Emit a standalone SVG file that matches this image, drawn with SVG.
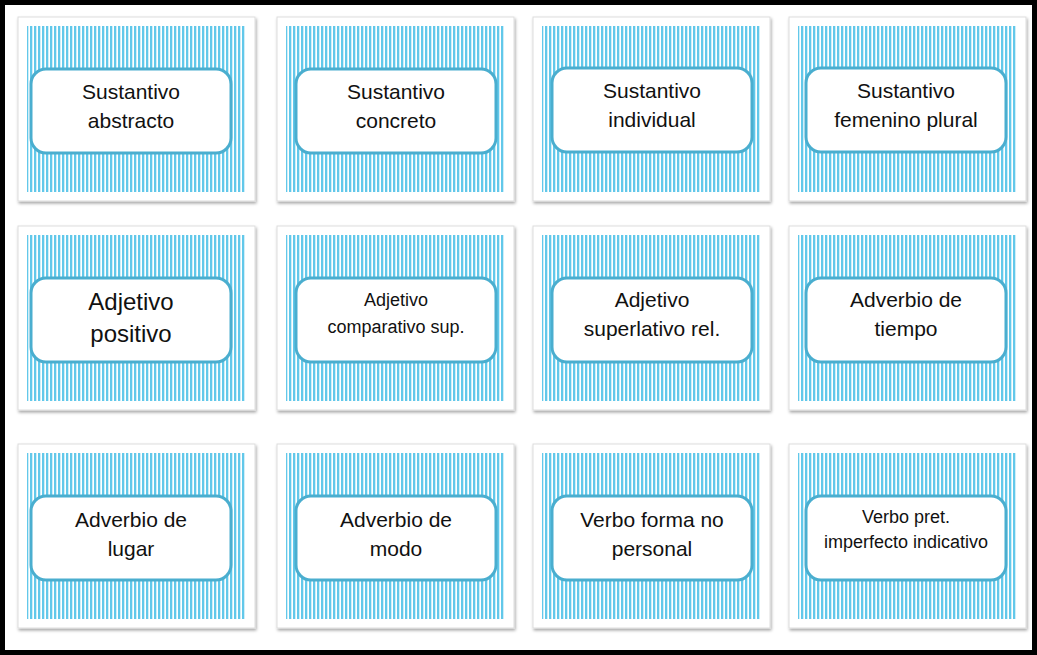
<svg xmlns="http://www.w3.org/2000/svg" width="1037" height="655" viewBox="0 0 1037 655">
<defs>
<pattern id="st" width="4" height="10" patternUnits="userSpaceOnUse"><rect width="4" height="10" fill="#fff"/><rect width="2.3" height="10" fill="#62c8ea"/></pattern>
<filter id="sh" x="-5%" y="-5%" width="112%" height="112%"><feDropShadow dx="1" dy="2" stdDeviation="1.5" flood-color="#000" flood-opacity="0.35"/></filter>
<g id="card"><rect x="0" y="0" width="237" height="184" fill="#fff" stroke="#ddd" stroke-width="1" filter="url(#sh)"/><rect x="9" y="9" width="219" height="166" fill="url(#st)"/></g>
<rect id="box" x="0" y="0" width="200" height="84" rx="15" fill="#fff" stroke="#4aaecf" stroke-width="3"/>
</defs>
<style>text{font-family:"Liberation Sans",Arial,sans-serif;font-size:21px;fill:#111;text-anchor:middle}.s{font-size:18px}</style>
<rect x="2.5" y="2.5" width="1032" height="650" fill="#fff" stroke="#000" stroke-width="5"/>
<g id="n1"><use href="#card" x="18" y="17"/><use href="#box" x="31" y="69"/><text x="131" y="99">Sustantivo</text><text x="131" y="128">abstracto</text></g>
<g id="n2"><use href="#card" x="277" y="17"/><use href="#box" x="296" y="69"/><text x="396" y="99">Sustantivo</text><text x="396" y="128">concreto</text></g>
<g id="n3"><use href="#card" x="533" y="17"/><use href="#box" x="552" y="68"/><text x="652" y="98">Sustantivo</text><text x="652" y="127">individual</text></g>
<g id="n4"><use href="#card" x="789" y="17"/><use href="#box" x="806" y="68"/><text x="906" y="98">Sustantivo</text><text x="906" y="127">femenino plural</text></g>
<g id="n5"><use href="#card" x="18" y="226"/><use href="#box" x="31" y="278"/><text x="131" y="310" style="font-size:24px">Adjetivo</text><text x="131" y="342" style="font-size:24px">positivo</text></g>
<g id="n6"><use href="#card" x="277" y="226"/><use href="#box" x="296" y="278"/><text class="s" x="396" y="306">Adjetivo</text><text class="s" x="396" y="333">comparativo sup.</text></g>
<g id="n7"><use href="#card" x="533" y="226"/><use href="#box" x="552" y="278"/><text x="652" y="307">Adjetivo</text><text x="652" y="336">superlativo rel.</text></g>
<g id="n8"><use href="#card" x="789" y="226"/><use href="#box" x="806" y="278"/><text x="906" y="307">Adverbio de</text><text x="906" y="336">tiempo</text></g>
<g id="n9"><use href="#card" x="18" y="444"/><use href="#box" x="31" y="496"/><text x="131" y="527">Adverbio de</text><text x="131" y="556">lugar</text></g>
<g id="n10"><use href="#card" x="277" y="444"/><use href="#box" x="296" y="496"/><text x="396" y="527">Adverbio de</text><text x="396" y="556">modo</text></g>
<g id="n11"><use href="#card" x="533" y="444"/><use href="#box" x="552" y="496"/><text x="652" y="527">Verbo forma no</text><text x="652" y="556">personal</text></g>
<g id="n12"><use href="#card" x="789" y="444"/><use href="#box" x="806" y="496"/><text class="s" x="906" y="523">Verbo pret.</text><text class="s" x="906" y="548">imperfecto indicativo</text></g>
<g id="connectors"/>
</svg>
